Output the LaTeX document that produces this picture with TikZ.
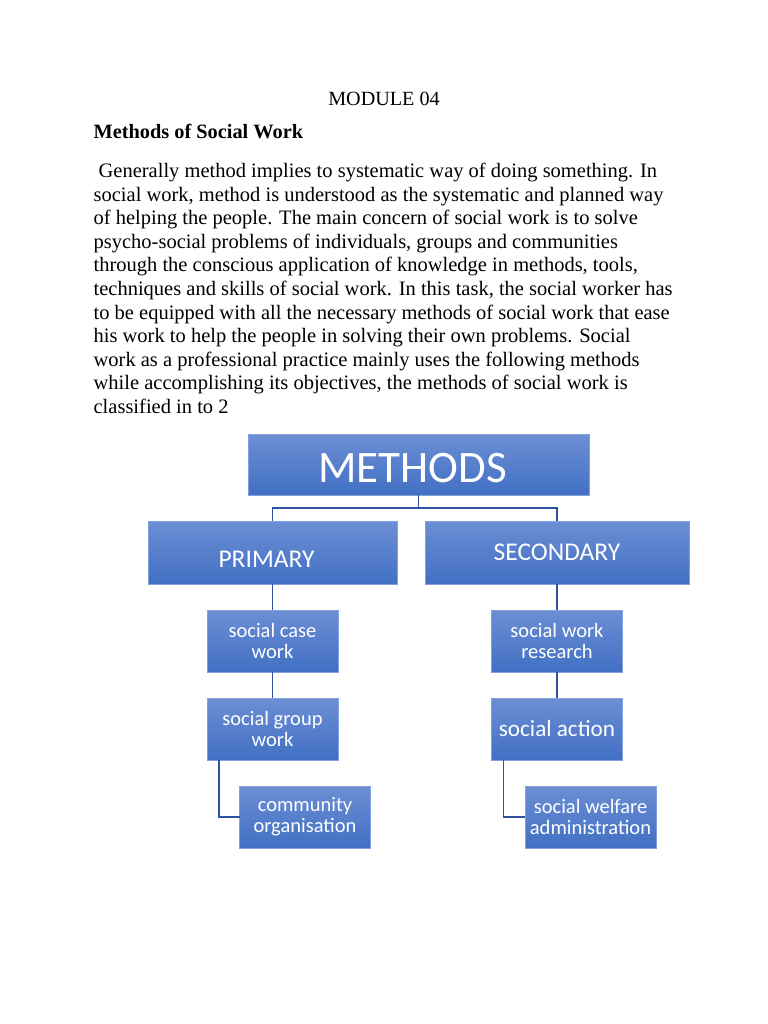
\documentclass[tikz,border=0pt]{standalone}
\usepackage{fontspec}
\setmainfont{Liberation Serif}
\newfontfamily\boxfont{Carlito}
\definecolor{boxtop}{RGB}{108,142,212}
\definecolor{boxbot}{RGB}{66,112,196}
\definecolor{boxline}{RGB}{130,160,222}
\definecolor{linkcol}{RGB}{44,82,160}

\begin{document}
\begin{tikzpicture}[x=0.6pt, y=-0.6pt,
  txt/.style={anchor=base west, inner sep=0pt, font=\fontsize{12.3}{14}\selectfont},
  box/.style={rectangle, inner sep=0pt, outer sep=0pt, top color=boxtop, bottom color=boxbot,
    draw=boxline, line width=0.4pt, text=white, align=center,
    font=\boxfont\fontsize{12.3}{12.8}\selectfont},
  small/.style={box, minimum width=78.6pt, minimum height=37.2pt},
  boxtxt/.style={inner sep=0pt, text=white},
  link/.style={draw=linkcol, line width=0.9pt}]
\useasboundingbox[fill=white] (0,0) rectangle (768,1024);

\node[anchor=base, inner sep=0pt, font=\fontsize{12.1}{14}\selectfont] (module) at (384,105.7) {MODULE 04};
\node[txt, font=\fontsize{12.2}{14}\bfseries] (heading) at (93.3,138.3) {Methods of Social Work};
\node[txt] (line1) at (98.3,177.7) {Generally method implies to systematic way of doing something. In};
\node[txt] (line2) at (93.3,201.3) {social work, method is understood as the systematic and planned way};
\node[txt] (line3) at (93.3,224.8) {of helping the people. The main concern of social work is to solve};
\node[txt] (line4) at (93.3,248.4) {psycho-social problems of individuals, groups and communities};
\node[txt] (line5) at (93.3,271.9) {through the conscious application of knowledge in methods, tools,};
\node[txt] (line6) at (93.3,295.5) {techniques and skills of social work. In this task, the social worker has};
\node[txt] (line7) at (93.3,319.1) {to be equipped with all the necessary methods of social work that ease};
\node[txt] (line8) at (93.3,342.6) {his work to help the people in solving their own problems. Social};
\node[txt] (line9) at (93.3,366.2) {work as a professional practice mainly uses the following methods};
\node[txt] (line10) at (93.3,389.7) {while accomplishing its objectives, the methods of social work is};
\node[txt] (line11) at (93.3,413.3) {classified in to 2};

% top level
\node[box, minimum width=204.6pt, minimum height=36.6pt] (methods) at (418.5,464.5) {};
\node[boxtxt, font=\boxfont\fontsize{27}{30}\selectfont] (methodstxt) at (412.5,468.5) {METHODS};

% second level
\node[box, minimum width=149.4pt, minimum height=37.8pt] (primary) at (272.5,552.5) {};
\node[boxtxt, font=\boxfont\fontsize{15.3}{17}\selectfont] (primarytxt) at (266.5,559.7) {PRIMARY};
\node[box, minimum width=158.4pt, minimum height=37.8pt] (secondary) at (557,552.5) {};
\node[boxtxt, font=\boxfont\fontsize{15.3}{17}\selectfont] (secondarytxt) at (557,552.5) {SECONDARY};

% methods under primary
\node[small] (casework) at (272.5,641) {social case\\work};
\node[small] (groupwork) at (272.5,729) {social group\\work};
\node[small] (community) at (305,817) {community\\organisation};

% methods under secondary
\node[small] (research) at (557,641) {social work\\research};
\node[small, font=\boxfont\fontsize{13.9}{15}\selectfont] (action) at (557,729) {social action};
\node[small] (welfare) at (590.5,817) {social welfare\\administration};

\draw[link] (methods.south) -- ++(0,13) -| (primary.north);
\draw[link] (methods.south) -- ++(0,13) -| (secondary.north);
\draw[link] (primary.south) -- (casework.north);
\draw[link] (casework.south) -- (groupwork.north);
\draw[link] ([shift={(12,0)}]groupwork.south west) |- (community.west);
\draw[link] (secondary.south) -- (research.north);
\draw[link] (research.south) -- (action.north);
\draw[link] ([shift={(12,0)}]action.south west) |- (welfare.west);
\end{tikzpicture}
\end{document}
